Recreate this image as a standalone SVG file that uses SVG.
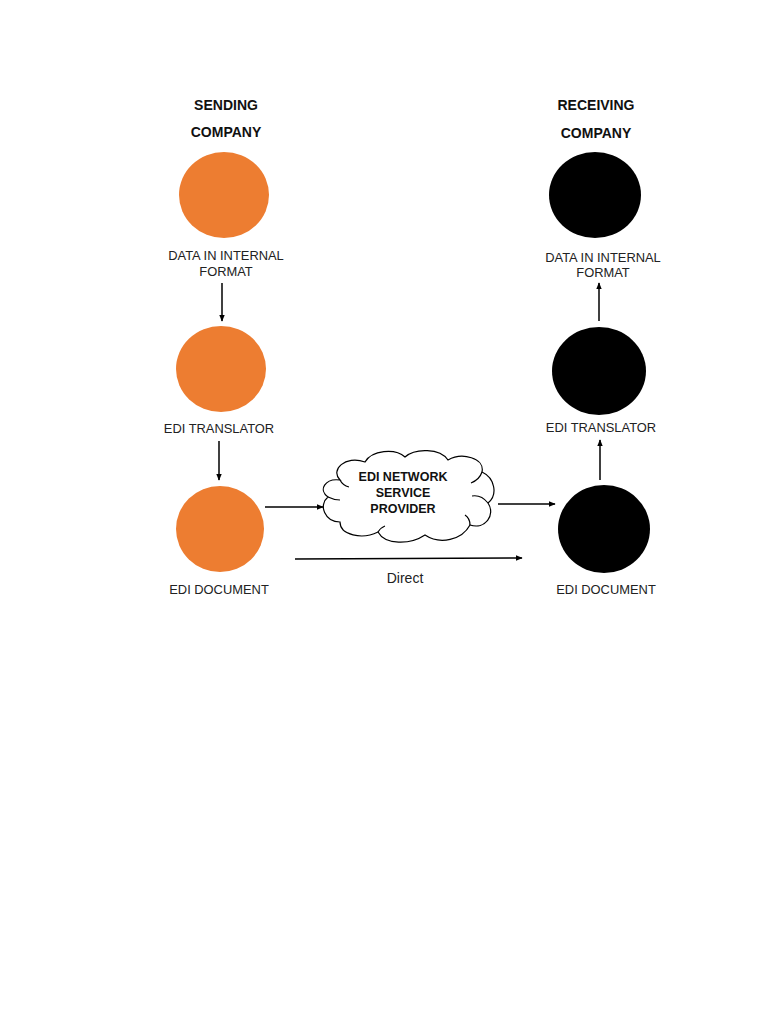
<svg xmlns="http://www.w3.org/2000/svg" width="768" height="1024" viewBox="0 0 768 1024">
<defs>
<marker id="ah" viewBox="0 0 10 10" refX="9" refY="5" markerWidth="7" markerHeight="7" orient="auto" markerUnits="userSpaceOnUse"><path d="M0,1 L10,5 L0,9 Z" fill="#000"/></marker>
<style>
.h{font-family:"Liberation Sans",Arial,sans-serif;font-size:14px;font-weight:bold;fill:#111;text-anchor:middle}
.t{font-family:"Liberation Sans",Arial,sans-serif;font-size:12.9px;fill:#222;text-anchor:middle}
.c{font-family:"Liberation Sans",Arial,sans-serif;font-size:12.5px;font-weight:bold;fill:#111;text-anchor:middle}
.o{fill:#ED7D31}
.k{fill:#000}
.ln{stroke:#000;stroke-width:1.5;fill:none;marker-end:url(#ah)}
</style>
</defs>
<rect width="768" height="1024" fill="#fff"/>
<text class="h" x="226" y="110">SENDING</text>
<text class="h" x="226" y="137">COMPANY</text>
<text class="h" x="596" y="110">RECEIVING</text>
<text class="h" x="596" y="138">COMPANY</text>
<g id="send-data"><ellipse class="o" cx="224" cy="195" rx="45" ry="43"/><text class="t" x="226" y="260">DATA IN INTERNAL</text><text class="t" x="226" y="276">FORMAT</text></g>
<g id="send-translator"><ellipse class="o" cx="221" cy="369" rx="45" ry="43"/><text class="t" x="219" y="433">EDI TRANSLATOR</text></g>
<g id="send-doc"><ellipse class="o" cx="220" cy="529" rx="44" ry="43"/><text class="t" x="219" y="594">EDI DOCUMENT</text></g>
<g id="recv-data"><ellipse class="k" cx="595" cy="195" rx="46" ry="43"/><text class="t" x="603" y="262">DATA IN INTERNAL</text><text class="t" x="603" y="277">FORMAT</text></g>
<g id="recv-translator"><ellipse class="k" cx="599" cy="371" rx="47" ry="44"/><text class="t" x="601" y="432">EDI TRANSLATOR</text></g>
<g id="recv-doc"><ellipse class="k" cx="604" cy="529" rx="46" ry="44"/><text class="t" x="606" y="594">EDI DOCUMENT</text></g>
<g id="van">
<path d="M340,480 C330,470 345,455 365,462 C372,450 395,448 405,457 C415,448 440,448 448,460 C462,452 485,458 482,472 C495,478 498,495 488,503 C496,515 485,530 470,525 C462,540 440,545 425,535 C410,545 385,545 378,532 C362,540 340,535 340,522 C325,522 318,505 328,497 C318,490 325,478 340,480 Z" fill="#fff" stroke="#000" stroke-width="1.2"/>
<path d="M340,480 C342,484 345,486 349,487 M482,472 C480,478 476,481 471,483 M488,503 C484,498 478,495 472,496 M470,525 C470,520 468,517 465,515 M378,532 C380,529 382,527 385,526 M328,497 C332,499 336,500 340,500" fill="none" stroke="#000" stroke-width="1.2"/>
<text class="c" x="403" y="481">EDI NETWORK</text>
<text class="c" x="403" y="497">SERVICE</text>
<text class="c" x="403" y="513">PROVIDER</text>
</g>
<text class="t" x="405" y="583" style="font-size:14px">Direct</text>
<g id="connectors">
<line class="ln" x1="222" y1="283" x2="222" y2="321"/>
<line class="ln" x1="219" y1="441" x2="219" y2="480"/>
<line class="ln" x1="265" y1="507" x2="323" y2="507"/>
<line class="ln" x1="498" y1="504" x2="555" y2="504"/>
<line class="ln" x1="295" y1="559" x2="522" y2="558"/>
<line class="ln" x1="600" y1="480" x2="600" y2="440"/>
<line class="ln" x1="599" y1="321" x2="599" y2="283"/>
</g>
</svg>
